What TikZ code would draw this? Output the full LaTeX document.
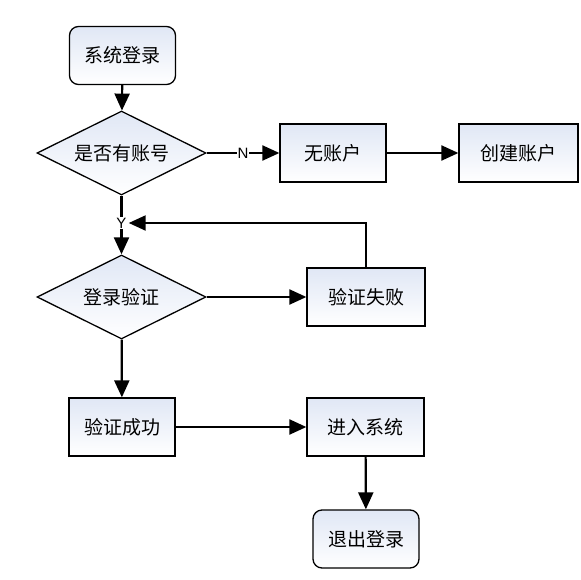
\documentclass[tikz,border=0pt]{standalone}
\usepackage{fontspec}
\setmainfont{Liberation Sans}
\newfontfamily\cjk{Noto Sans CJK SC}
\usetikzlibrary{shapes.geometric}
\usetikzlibrary{arrows.meta}
\usetikzlibrary{positioning}
\definecolor{boxtop}{RGB}{224,231,245}

\begin{document}
\begin{tikzpicture}[x=1pt,y=-1pt,
            >={Triangle[length=17pt,width=15pt]},
            every node/.style = {font=\cjk\fontsize{19}{22}\selectfont},
            box/.style = {draw,line width=1.3pt,top color=boxtop,bottom color=white,
                minimum width=106pt,minimum height=58pt,inner sep=0pt},
            startbox/.style = {box,rounded corners=9pt},
            decide/.style = {draw,line width=1.3pt,diamond,aspect=2,top color=boxtop,
                bottom color=white,minimum width=169pt,minimum height=84pt,inner sep=0pt},
            flow/.style = {->,line width=2.2pt},
            tag/.style = {fill=white,inner sep=1pt,font=\fontsize{15}{17}\selectfont}]
            \useasboundingbox (0,0) rectangle (580,580);
            \node[startbox] (login) at (122.5,55.5) {系统登录};
            \node[decide] (hasacc) at (121.5,153) {是否有账号};
            \node[box] (noacc) at (333,153) {无账户};
            \node[box,minimum width=119pt] (create) at (518.5,153) {创建账户};
            \node[decide] (check) at (121.5,297) {登录验证};
            \node[box,minimum width=118pt] (fail) at (366,297) {验证失败};
            \node[box] (pass) at (122,427) {验证成功};
            \node[box,minimum width=117pt] (enter) at (365.5,427) {进入系统};
            \node[startbox] (logout) at (366,539) {退出登录};
            \node[tag] (ylab) at (121.5,223) {Y};
            % connectors
            \draw[flow] (login) -- (hasacc);
            \draw[flow] (hasacc) -- node[tag,pos=0.5] {N} (noacc);
            \draw[flow] (noacc) -- (create);
            \draw[line width=2.2pt] (hasacc) -- (ylab);
            \draw[flow] (ylab) -- (check);
            \draw[flow] (fail.north) |- ([xshift=1pt]ylab.east);
            \draw[flow] (check) -- (fail);
            \draw[flow] (check) -- (pass);
            \draw[flow] (pass) -- (enter);
            \draw[flow] (enter) -- (logout);
\end{tikzpicture}
\end{document}
